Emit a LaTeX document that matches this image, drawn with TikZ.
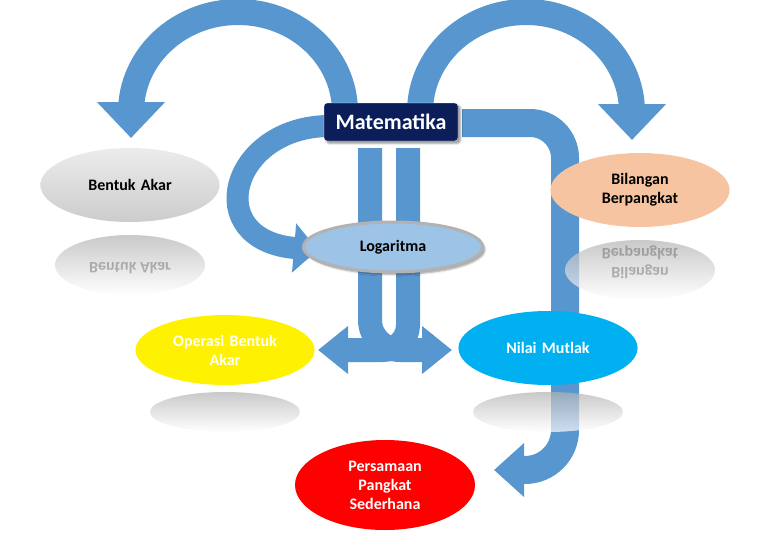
\documentclass[tikz,border=0pt]{standalone}
\usepackage{fontspec}
\setmainfont{Carlito}
\usetikzlibrary{arrows.meta,shapes.geometric,shadows.blur}
\definecolor{arr}{RGB}{88,150,208}
\definecolor{navy}{RGB}{12,30,90}
\begin{document}
\begin{tikzpicture}[x=1pt,y=-1pt,
  blk/.style={draw=arr,line width=#1},
  el/.style={ellipse,minimum width=156pt,minimum height=74pt,align=center,font=\bfseries\fontsize{16}{19}\selectfont,text width=120pt},
  refl/.style={ellipse,minimum width=150pt,minimum height=60pt,top color=gray!60,bottom color=white,opacity=0.7}]
\useasboundingbox (0,0) rectangle (768,543);
% big arcs
\draw[blk=26pt,-{Triangle[width=66pt,length=36pt]}] (345,112) arc[start angle=0,end angle=-180,x radius=107,y radius=100] -- (131,138);
\draw[blk=26pt,-{Triangle[width=66pt,length=36pt]}] (420,112) arc[start angle=180,end angle=360,x radius=106,y radius=100] -- (632,140);
% small left arrow
\draw[blk=22pt,-{Triangle[width=48pt,length=24pt]}] (330,126) .. controls (230,126) and (200,240) .. (318,250);
% U bars
\draw[blk=24pt,-{Triangle[width=46pt,length=30pt]}] (370,148) -- (370,320) arc[start angle=180,end angle=90,radius=30] -- (452,350);
\draw[blk=24pt,-{Triangle[width=46pt,length=30pt]}] (408,148) -- (408,325) arc[start angle=0,end angle=90,radius=25] -- (318,350);
% right path
\draw[blk=28pt,-{Triangle[width=52pt,length=30pt]}] (462,123) -- (530,123) arc[start angle=-90,end angle=0,radius=35] -- (565,430) arc[start angle=0,end angle=90,radius=40] -- (494,470);
% Matematika
\node[draw=white,fill=navy,rounded corners=3pt,minimum width=134pt,minimum height=38pt,text=white,font=\bfseries\fontsize{22}{24}\selectfont,blur shadow] (m) at (391,122) {Matematika};
% reflections
\node[refl] (r1) at (130,265) {};
\node[opacity=0.25,yscale=-1,font=\bfseries\fontsize{16}{19}\selectfont] (t1) at (130,268) {Bentuk Akar};
\node[refl] (r2) at (640,270) {};
\node[opacity=0.25,yscale=-1,font=\bfseries\fontsize{16}{19}\selectfont,align=center] (t2) at (640,262) {Bilangan\\Berpangkat};
\node[refl,minimum height=40pt] (r3) at (225,412) {};
\node[refl,minimum height=40pt] (r4) at (548,412) {};
% ellipses
\node[el,top color=gray!15,bottom color=gray!40] (ba) at (130,185) {Bentuk Akar};
\node[el,fill={rgb,255:red,246;green,196;blue,160},minimum width=150pt] (bp) at (640,190) {Bilangan\\Berpangkat};
\node[el,fill={rgb,255:red,157;green,195;blue,230},minimum width=140pt,minimum height=50pt,draw=gray!60,line width=3pt,blur shadow] (lg) at (393,247) {Logaritma};
\node[el,fill=yellow,text=white,minimum height=70pt] (ob) at (225,350) {Operasi Bentuk\\Akar};
\node[el,fill={rgb,255:red,0;green,176;blue,240},text=white] (nm) at (548,348) {Nilai Mutlak};
\node[el,fill=red,text=white,minimum width=180pt,minimum height=90pt] (pp) at (385,485) {Persamaan\\Pangkat\\Sederhana};
\end{tikzpicture}
\end{document}
